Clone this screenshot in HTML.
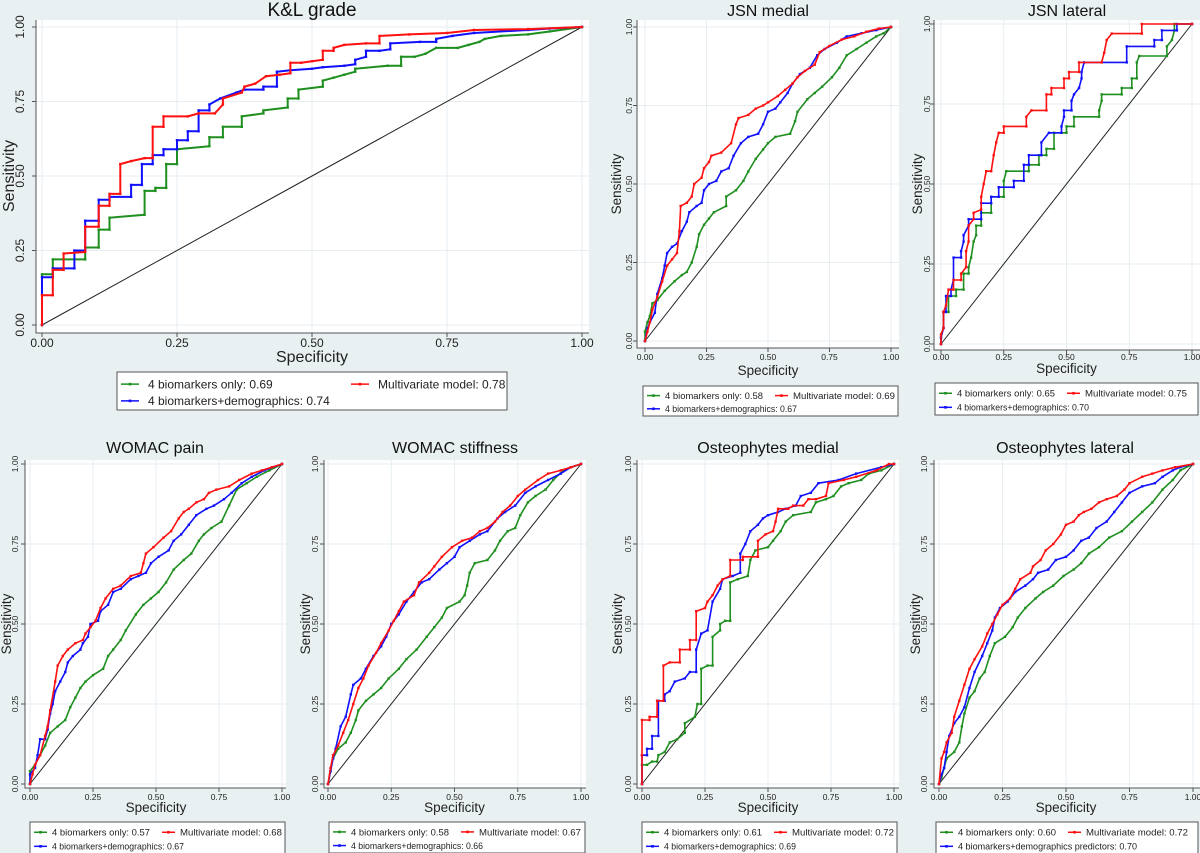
<!DOCTYPE html>
<html><head><meta charset="utf-8">
<style>
html,body{margin:0;padding:0;background:#e9f0f2;}
svg{display:block;font-family:"Liberation Sans",Arial,sans-serif;}
</style></head>
<body>
<svg id="fig" width="1200" height="853" viewBox="0 0 1200 853" xmlns="http://www.w3.org/2000/svg">
<rect x="0" y="0" width="1200" height="853" fill="#e9f0f2"/>
</svg>
<script>
const ticks = [0, 0.25, 0.5, 0.75, 1];
const tickLabels = ["0.00", "0.25", "0.50", "0.75", "1.00"];

const kl_green = [[0,0],[0,0.17],[0.02,0.17],[0.02,0.22],[0.08,0.22],[0.08,0.26],[0.105,0.26],[0.105,0.32],[0.125,0.32],[0.125,0.36],[0.19,0.37],[0.19,0.45],[0.21,0.45],[0.21,0.46],[0.23,0.46],[0.23,0.54],[0.25,0.54],[0.25,0.59],[0.31,0.6],[0.31,0.63],[0.335,0.63],[0.335,0.665],[0.37,0.665],[0.37,0.70],[0.41,0.71],[0.41,0.72],[0.455,0.73],[0.455,0.76],[0.475,0.76],[0.475,0.79],[0.52,0.80],[0.52,0.82],[0.54,0.83],[0.56,0.84],[0.58,0.85],[0.58,0.86],[0.64,0.87],[0.665,0.87],[0.665,0.90],[0.69,0.90],[0.71,0.91],[0.73,0.93],[0.77,0.93],[0.79,0.94],[0.81,0.95],[0.82,0.96],[0.85,0.97],[0.9,0.975],[0.94,0.985],[1,1]];
const kl_red = [[0,0],[0,0.1],[0.02,0.1],[0.02,0.185],[0.04,0.185],[0.04,0.24],[0.08,0.245],[0.08,0.33],[0.105,0.33],[0.105,0.40],[0.125,0.40],[0.125,0.44],[0.145,0.44],[0.145,0.54],[0.165,0.55],[0.19,0.56],[0.205,0.56],[0.205,0.665],[0.225,0.665],[0.225,0.70],[0.27,0.70],[0.29,0.71],[0.32,0.71],[0.335,0.74],[0.335,0.76],[0.37,0.78],[0.375,0.80],[0.395,0.81],[0.415,0.835],[0.44,0.84],[0.46,0.845],[0.46,0.88],[0.48,0.88],[0.5,0.885],[0.52,0.89],[0.52,0.92],[0.54,0.92],[0.54,0.93],[0.56,0.94],[0.6,0.945],[0.625,0.945],[0.625,0.97],[0.68,0.975],[0.75,0.98],[0.8,0.99],[0.9,0.993],[1,1]];
const kl_blue = [[0,0],[0,0.16],[0.02,0.16],[0.02,0.19],[0.06,0.19],[0.06,0.25],[0.08,0.25],[0.08,0.35],[0.105,0.35],[0.105,0.42],[0.125,0.42],[0.125,0.43],[0.165,0.43],[0.165,0.47],[0.185,0.47],[0.185,0.54],[0.205,0.54],[0.205,0.57],[0.225,0.57],[0.225,0.59],[0.25,0.59],[0.25,0.62],[0.27,0.62],[0.27,0.65],[0.29,0.65],[0.29,0.72],[0.31,0.72],[0.31,0.74],[0.33,0.76],[0.36,0.78],[0.375,0.79],[0.41,0.79],[0.41,0.80],[0.435,0.80],[0.435,0.85],[0.46,0.855],[0.5,0.86],[0.52,0.865],[0.56,0.87],[0.58,0.875],[0.58,0.89],[0.6,0.90],[0.6,0.92],[0.625,0.92],[0.645,0.925],[0.645,0.945],[0.7,0.95],[0.73,0.95],[0.73,0.96],[0.76,0.97],[0.8,0.98],[0.9,0.99],[0.94,0.995],[1,1]];

const jm_red = [[0,0],[0.01,0.03],[0.02,0.06],[0.03,0.1],[0.05,0.14],[0.07,0.19],[0.09,0.24],[0.11,0.26],[0.13,0.28],[0.14,0.35],[0.145,0.43],[0.17,0.44],[0.19,0.46],[0.2,0.5],[0.23,0.52],[0.24,0.55],[0.26,0.57],[0.27,0.59],[0.31,0.6],[0.35,0.63],[0.37,0.69],[0.38,0.71],[0.42,0.72],[0.45,0.74],[0.48,0.75],[0.5,0.76],[0.54,0.78],[0.57,0.80],[0.6,0.82],[0.62,0.84],[0.65,0.86],[0.69,0.88],[0.71,0.92],[0.75,0.94],[0.8,0.96],[0.85,0.97],[0.9,0.985],[0.95,0.995],[1,1]];
const jm_blue = [[0,0],[0.01,0.04],[0.02,0.06],[0.04,0.09],[0.05,0.15],[0.07,0.2],[0.08,0.24],[0.09,0.28],[0.11,0.3],[0.13,0.31],[0.15,0.35],[0.17,0.38],[0.18,0.41],[0.21,0.43],[0.23,0.44],[0.24,0.48],[0.26,0.5],[0.29,0.51],[0.31,0.54],[0.34,0.55],[0.36,0.59],[0.39,0.63],[0.42,0.65],[0.46,0.66],[0.48,0.69],[0.5,0.73],[0.53,0.74],[0.55,0.76],[0.58,0.79],[0.6,0.82],[0.63,0.85],[0.67,0.87],[0.7,0.91],[0.73,0.93],[0.78,0.95],[0.82,0.97],[0.88,0.98],[0.94,0.99],[1,1]];
const jm_green = [[0,0],[0,0.03],[0.01,0.06],[0.02,0.08],[0.03,0.12],[0.05,0.13],[0.08,0.16],[0.12,0.19],[0.15,0.21],[0.17,0.22],[0.19,0.25],[0.21,0.3],[0.22,0.34],[0.24,0.37],[0.26,0.39],[0.28,0.41],[0.33,0.43],[0.33,0.46],[0.37,0.48],[0.4,0.51],[0.42,0.54],[0.45,0.58],[0.48,0.61],[0.5,0.63],[0.53,0.65],[0.59,0.66],[0.61,0.7],[0.62,0.73],[0.66,0.77],[0.69,0.79],[0.72,0.81],[0.76,0.84],[0.79,0.87],[0.82,0.91],[0.86,0.93],[0.9,0.95],[0.94,0.97],[0.97,0.98],[1,1]];

const jl_red = [[0,0],[0,0.03],[0.01,0.05],[0.01,0.10],[0.02,0.12],[0.03,0.17],[0.05,0.17],[0.05,0.20],[0.08,0.20],[0.08,0.22],[0.1,0.24],[0.1,0.29],[0.11,0.32],[0.11,0.37],[0.13,0.39],[0.13,0.41],[0.16,0.42],[0.16,0.46],[0.17,0.5],[0.18,0.54],[0.2,0.54],[0.21,0.59],[0.22,0.63],[0.23,0.66],[0.25,0.66],[0.25,0.68],[0.34,0.68],[0.34,0.71],[0.36,0.73],[0.42,0.73],[0.42,0.78],[0.44,0.78],[0.44,0.8],[0.49,0.8],[0.49,0.83],[0.51,0.83],[0.51,0.85],[0.55,0.85],[0.55,0.88],[0.64,0.88],[0.65,0.91],[0.66,0.95],[0.68,0.97],[0.8,0.97],[0.8,1],[1,1]];
const jl_blue = [[0,0],[0,0.02],[0.01,0.05],[0.01,0.1],[0.02,0.1],[0.02,0.15],[0.04,0.15],[0.04,0.17],[0.05,0.2],[0.05,0.27],[0.08,0.27],[0.08,0.29],[0.09,0.32],[0.09,0.34],[0.11,0.37],[0.11,0.39],[0.16,0.39],[0.16,0.44],[0.2,0.44],[0.2,0.46],[0.23,0.46],[0.23,0.49],[0.29,0.49],[0.29,0.51],[0.33,0.51],[0.33,0.56],[0.35,0.56],[0.35,0.59],[0.4,0.59],[0.4,0.63],[0.43,0.66],[0.48,0.66],[0.48,0.68],[0.49,0.71],[0.49,0.73],[0.52,0.73],[0.52,0.76],[0.53,0.78],[0.55,0.8],[0.56,0.83],[0.56,0.85],[0.57,0.88],[0.74,0.88],[0.74,0.93],[0.85,0.93],[0.85,0.95],[0.88,0.95],[0.88,0.98],[0.94,0.98],[0.94,1],[1,1]];
const jl_green = [[0,0],[0,0.02],[0.01,0.05],[0.01,0.1],[0.03,0.1],[0.03,0.15],[0.06,0.15],[0.06,0.17],[0.09,0.17],[0.09,0.22],[0.11,0.22],[0.11,0.24],[0.12,0.27],[0.13,0.32],[0.14,0.34],[0.14,0.37],[0.16,0.37],[0.16,0.41],[0.2,0.41],[0.2,0.46],[0.25,0.46],[0.25,0.51],[0.26,0.54],[0.35,0.54],[0.35,0.56],[0.39,0.56],[0.39,0.59],[0.42,0.59],[0.42,0.61],[0.45,0.61],[0.45,0.66],[0.5,0.66],[0.5,0.68],[0.53,0.68],[0.53,0.71],[0.63,0.71],[0.63,0.73],[0.64,0.76],[0.64,0.78],[0.72,0.78],[0.72,0.8],[0.76,0.8],[0.76,0.83],[0.78,0.83],[0.78,0.88],[0.79,0.9],[0.9,0.9],[0.9,0.93],[0.92,0.95],[0.93,0.98],[0.93,1],[1,1]];

const wp_red = [[0,0],[0.01,0.03],[0.02,0.06],[0.04,0.09],[0.06,0.15],[0.07,0.18],[0.08,0.23],[0.1,0.32],[0.11,0.37],[0.13,0.4],[0.15,0.42],[0.18,0.44],[0.21,0.45],[0.22,0.47],[0.24,0.49],[0.26,0.51],[0.28,0.55],[0.3,0.58],[0.33,0.61],[0.36,0.62],[0.4,0.65],[0.44,0.66],[0.45,0.69],[0.46,0.72],[0.49,0.74],[0.53,0.77],[0.56,0.79],[0.59,0.83],[0.61,0.85],[0.63,0.86],[0.66,0.88],[0.69,0.89],[0.71,0.91],[0.74,0.92],[0.79,0.93],[0.83,0.95],[0.88,0.97],[0.92,0.98],[0.96,0.99],[1,1]];
const wp_blue = [[0,0],[0,0.03],[0.02,0.05],[0.03,0.09],[0.04,0.14],[0.06,0.14],[0.07,0.17],[0.08,0.22],[0.09,0.25],[0.1,0.29],[0.12,0.32],[0.14,0.35],[0.15,0.38],[0.17,0.4],[0.2,0.42],[0.21,0.44],[0.23,0.46],[0.24,0.5],[0.27,0.51],[0.28,0.54],[0.31,0.56],[0.33,0.6],[0.36,0.61],[0.4,0.64],[0.43,0.65],[0.46,0.66],[0.48,0.69],[0.51,0.71],[0.55,0.73],[0.57,0.76],[0.6,0.78],[0.63,0.81],[0.66,0.84],[0.7,0.86],[0.73,0.87],[0.77,0.89],[0.8,0.91],[0.84,0.94],[0.88,0.96],[0.93,0.98],[1,1]];
const wp_green = [[0,0],[0,0.04],[0.02,0.06],[0.04,0.09],[0.06,0.12],[0.08,0.16],[0.11,0.18],[0.14,0.2],[0.16,0.24],[0.18,0.27],[0.2,0.3],[0.22,0.32],[0.25,0.34],[0.29,0.36],[0.31,0.4],[0.33,0.42],[0.36,0.45],[0.38,0.48],[0.42,0.53],[0.45,0.56],[0.48,0.58],[0.51,0.6],[0.54,0.63],[0.57,0.67],[0.61,0.7],[0.64,0.72],[0.67,0.76],[0.69,0.78],[0.72,0.8],[0.76,0.82],[0.79,0.87],[0.82,0.92],[0.86,0.94],[0.9,0.96],[0.95,0.98],[1,1]];

const ws_red = [[0,0],[0.01,0.05],[0.02,0.09],[0.04,0.12],[0.06,0.16],[0.08,0.2],[0.1,0.25],[0.12,0.3],[0.14,0.33],[0.16,0.37],[0.19,0.41],[0.21,0.44],[0.24,0.48],[0.26,0.51],[0.28,0.54],[0.3,0.57],[0.34,0.59],[0.36,0.63],[0.4,0.66],[0.42,0.68],[0.45,0.71],[0.49,0.74],[0.53,0.76],[0.57,0.77],[0.6,0.79],[0.63,0.8],[0.66,0.82],[0.69,0.85],[0.72,0.87],[0.75,0.9],[0.78,0.92],[0.83,0.95],[0.87,0.97],[0.92,0.98],[0.96,0.99],[1,1]];
const ws_blue = [[0,0],[0.01,0.04],[0.02,0.08],[0.03,0.11],[0.05,0.18],[0.07,0.21],[0.09,0.28],[0.1,0.31],[0.13,0.33],[0.15,0.36],[0.18,0.4],[0.21,0.43],[0.23,0.46],[0.25,0.5],[0.28,0.53],[0.31,0.57],[0.34,0.6],[0.37,0.63],[0.4,0.64],[0.44,0.67],[0.47,0.69],[0.5,0.71],[0.52,0.74],[0.56,0.76],[0.6,0.78],[0.63,0.79],[0.67,0.83],[0.7,0.85],[0.74,0.87],[0.78,0.91],[0.82,0.93],[0.87,0.95],[0.92,0.97],[0.96,0.99],[1,1]];
const ws_green = [[0,0],[0.01,0.04],[0.02,0.08],[0.04,0.11],[0.07,0.13],[0.09,0.16],[0.11,0.2],[0.12,0.23],[0.15,0.26],[0.18,0.28],[0.21,0.3],[0.24,0.33],[0.28,0.36],[0.31,0.39],[0.35,0.42],[0.39,0.46],[0.42,0.49],[0.45,0.52],[0.47,0.55],[0.52,0.57],[0.54,0.59],[0.55,0.62],[0.56,0.66],[0.58,0.69],[0.63,0.7],[0.66,0.73],[0.68,0.76],[0.71,0.79],[0.74,0.8],[0.76,0.84],[0.79,0.88],[0.82,0.9],[0.86,0.92],[0.89,0.95],[0.93,0.98],[1,1]];

const om_red = [[0,0],[0,0.09],[0,0.2],[0.03,0.2],[0.03,0.21],[0.06,0.21],[0.06,0.26],[0.085,0.26],[0.085,0.37],[0.11,0.38],[0.15,0.38],[0.15,0.42],[0.19,0.42],[0.19,0.45],[0.215,0.45],[0.215,0.54],[0.25,0.55],[0.26,0.57],[0.28,0.59],[0.3,0.62],[0.32,0.64],[0.35,0.65],[0.35,0.7],[0.4,0.7],[0.4,0.71],[0.46,0.71],[0.46,0.76],[0.49,0.78],[0.52,0.79],[0.53,0.82],[0.54,0.86],[0.58,0.86],[0.6,0.87],[0.64,0.87],[0.66,0.89],[0.69,0.89],[0.73,0.9],[0.74,0.94],[0.8,0.95],[0.85,0.96],[0.93,0.98],[0.98,1],[1,1]];
const om_blue = [[0,0],[0,0.09],[0.02,0.09],[0.02,0.11],[0.04,0.11],[0.04,0.15],[0.065,0.15],[0.065,0.26],[0.09,0.26],[0.09,0.28],[0.11,0.29],[0.13,0.32],[0.17,0.33],[0.19,0.35],[0.215,0.35],[0.215,0.42],[0.235,0.47],[0.26,0.48],[0.28,0.57],[0.31,0.61],[0.32,0.64],[0.36,0.65],[0.39,0.66],[0.39,0.72],[0.41,0.75],[0.43,0.79],[0.46,0.81],[0.48,0.83],[0.5,0.84],[0.54,0.85],[0.57,0.86],[0.61,0.87],[0.63,0.9],[0.67,0.91],[0.7,0.94],[0.78,0.95],[0.85,0.97],[0.95,0.99],[1,1]];
const om_green = [[0,0],[0,0.06],[0.02,0.06],[0.04,0.07],[0.06,0.07],[0.065,0.09],[0.09,0.1],[0.11,0.13],[0.14,0.14],[0.17,0.16],[0.17,0.19],[0.21,0.21],[0.22,0.25],[0.235,0.25],[0.235,0.36],[0.26,0.37],[0.28,0.37],[0.28,0.46],[0.31,0.48],[0.31,0.5],[0.33,0.51],[0.35,0.51],[0.35,0.63],[0.38,0.64],[0.42,0.65],[0.43,0.7],[0.45,0.73],[0.5,0.74],[0.52,0.76],[0.55,0.79],[0.57,0.82],[0.6,0.84],[0.67,0.85],[0.69,0.88],[0.73,0.89],[0.76,0.9],[0.79,0.93],[0.82,0.94],[0.87,0.95],[0.9,0.97],[0.95,0.98],[1,1]];

const ol_red = [[0,0],[0.01,0.08],[0.02,0.1],[0.03,0.13],[0.05,0.16],[0.06,0.21],[0.08,0.26],[0.1,0.31],[0.12,0.36],[0.14,0.39],[0.17,0.43],[0.19,0.47],[0.21,0.5],[0.23,0.53],[0.25,0.56],[0.28,0.58],[0.3,0.61],[0.32,0.64],[0.36,0.66],[0.37,0.68],[0.4,0.7],[0.42,0.73],[0.45,0.75],[0.48,0.78],[0.5,0.81],[0.53,0.82],[0.55,0.84],[0.57,0.85],[0.6,0.86],[0.63,0.88],[0.66,0.89],[0.7,0.9],[0.73,0.92],[0.75,0.94],[0.8,0.96],[0.84,0.97],[0.88,0.98],[0.93,0.99],[1,1]];
const ol_blue = [[0,0],[0.01,0.03],[0.02,0.05],[0.03,0.1],[0.04,0.15],[0.06,0.19],[0.08,0.21],[0.1,0.24],[0.12,0.3],[0.14,0.35],[0.17,0.4],[0.19,0.44],[0.21,0.48],[0.22,0.52],[0.24,0.55],[0.27,0.57],[0.3,0.6],[0.34,0.62],[0.37,0.64],[0.39,0.66],[0.43,0.67],[0.46,0.7],[0.5,0.71],[0.53,0.73],[0.56,0.76],[0.59,0.77],[0.62,0.8],[0.66,0.82],[0.69,0.85],[0.72,0.88],[0.75,0.91],[0.8,0.93],[0.85,0.94],[0.88,0.96],[0.92,0.98],[0.95,0.99],[1,1]];
const ol_green = [[0,0],[0.01,0.02],[0.02,0.05],[0.03,0.08],[0.06,0.1],[0.08,0.13],[0.09,0.18],[0.1,0.22],[0.12,0.27],[0.14,0.29],[0.16,0.33],[0.18,0.35],[0.2,0.4],[0.22,0.44],[0.26,0.46],[0.29,0.49],[0.31,0.52],[0.34,0.55],[0.38,0.58],[0.41,0.6],[0.45,0.62],[0.49,0.65],[0.53,0.67],[0.56,0.69],[0.59,0.72],[0.63,0.74],[0.67,0.77],[0.72,0.79],[0.76,0.82],[0.8,0.85],[0.84,0.88],[0.88,0.92],[0.92,0.95],[0.95,0.98],[1,1]];

const GREEN = "#1f8f1f", RED = "#ff1010", BLUE = "#1010ff";
const svg = document.getElementById('fig');
const NS = "http://www.w3.org/2000/svg";
function mk(tag, attrs, parent) {
  const e = document.createElementNS(NS, tag);
  for (const k in attrs) e.setAttribute(k, attrs[k]);
  (parent || svg).appendChild(e);
  return e;
}

const panels = [
  {id:'kl', title:'K&L grade', big:true, x0:42,x1:582,y1:27,y0:325, wl:36,wr:589,wt:20,wb:333, tx:312,ty:16, xtY:347, specY:362, sensX:14, ytX:24, leg:[117,372,390,38],
   series:[[kl_green,GREEN],[kl_blue,BLUE],[kl_red,RED]], labels:['4 biomarkers only: 0.69','4 biomarkers+demographics: 0.74','Multivariate model: 0.78']},
  {id:'jsn-medial', title:'JSN medial', x0:645,x1:891,y1:27,y0:341, wl:637,wr:899,wt:20,wb:348, tx:768,ty:16, xtY:360, specY:375, sensX:621, ytX:632, leg:[643,386,255,30],
   series:[[jm_green,GREEN],[jm_blue,BLUE],[jm_red,RED]], labels:['4 biomarkers only: 0.58','4 biomarkers+demographics: 0.67','Multivariate model: 0.69']},
  {id:'jsn-lateral', title:'JSN lateral', x0:941,x1:1192,y1:24,y0:344, wl:934,wr:1200,wt:20,wb:350, tx:1067,ty:16, xtY:360, specY:373, sensX:922, ytX:930, leg:[935,383,263,32],
   series:[[jl_green,GREEN],[jl_blue,BLUE],[jl_red,RED]], labels:['4 biomarkers only: 0.65','4 biomarkers+demographics: 0.70','Multivariate model: 0.75']},
  {id:'womac-pain', title:'WOMAC pain', x0:30,x1:282,y1:464,y0:784, wl:25,wr:286,wt:460,wb:788, tx:155,ty:453, xtY:800, specY:812, sensX:11, ytX:18, leg:[30,822,255,32],
   series:[[wp_green,GREEN],[wp_blue,BLUE],[wp_red,RED]], labels:['4 biomarkers only: 0.57','4 biomarkers+demographics: 0.67','Multivariate model: 0.68']},
  {id:'womac-stiffness', title:'WOMAC stiffness', x0:328,x1:581,y1:464,y0:784, wl:324,wr:586,wt:460,wb:788, tx:455,ty:453, xtY:800, specY:812, sensX:310, ytX:318, leg:[329,822,256,31],
   series:[[ws_green,GREEN],[ws_blue,BLUE],[ws_red,RED]], labels:['4 biomarkers only: 0.58','4 biomarkers+demographics: 0.66','Multivariate model: 0.67']},
  {id:'osteophytes-medial', title:'Osteophytes medial', x0:642,x1:894,y1:464,y0:784, wl:637,wr:899,wt:460,wb:788, tx:768,ty:453, xtY:800, specY:812, sensX:622, ytX:631, leg:[642,822,255,32],
   series:[[om_green,GREEN],[om_blue,BLUE],[om_red,RED]], labels:['4 biomarkers only: 0.61','4 biomarkers+demographics: 0.69','Multivariate model: 0.72']},
  {id:'osteophytes-lateral', title:'Osteophytes lateral', x0:939,x1:1193,y1:464,y0:784, wl:934,wr:1200,wt:460,wb:788, tx:1065,ty:453, xtY:800, specY:812, sensX:920, ytX:927, leg:[936,822,262,32],
   series:[[ol_green,GREEN],[ol_blue,BLUE],[ol_red,RED]], labels:['4 biomarkers only: 0.60','4 biomarkers+demographics predictors: 0.70','Multivariate model: 0.72']}
];

panels.forEach(p => {
  const g = mk('g', {});
  
  
  const sx = v => p.x0 + v * (p.x1 - p.x0);
  const sy = v => p.y0 - v * (p.y0 - p.y1);
  const big = !!p.big;
  const tickFs = big ? 12 : 8.5, axFs = big ? 16 : 13.5, titleFs = big ? 19 : 16, legFs = big ? 12 : 9.3;

  const bg = mk('rect', {x:p.wl, y:p.wt, width:p.wr-p.wl, height:p.wb-p.wt, fill:'#ffffff'}, g);
  
  
  ticks.forEach(t => {
    mk('line', {x1:sx(t), x2:sx(t), y1:p.wt, y2:p.wb, stroke:'#e6eef0', 'stroke-width':1}, g);
    mk('line', {x1:p.wl, x2:p.wr, y1:sy(t), y2:sy(t), stroke:'#e6eef0', 'stroke-width':1}, g);
  });
  const ax = mk('path', {d:`M${p.wl},${p.wt}V${p.wb}H${p.wr}`, stroke:'#555', fill:'none', 'stroke-width':1}, g);
  
  
  ticks.forEach((t, i) => {
    mk('line', {x1:sx(t), x2:sx(t), y1:p.wb, y2:p.wb+4, stroke:'#555'}, g);
    mk('line', {x1:p.wl-4, x2:p.wl, y1:sy(t), y2:sy(t), stroke:'#555'}, g);
    const xl = mk('text', {x:sx(t), y:p.xtY, 'font-size':tickFs, 'text-anchor':'middle', fill:'#222'}, g);
    xl.textContent = tickLabels[i];
    
    
    const yl = mk('text', {x:0, y:0, 'font-size':tickFs, 'text-anchor':'middle', fill:'#222', transform:`translate(${p.ytX},${sy(t)}) rotate(-90)`}, g);
    yl.textContent = tickLabels[i];
    
    
  });
  const xt = mk('text', {x:(p.x0+p.x1)/2, y:p.specY, 'font-size':axFs, 'text-anchor':'middle', fill:'#222'}, g);
  xt.textContent = 'Specificity';
  
  
  const yt = mk('text', {x:0, y:0, 'font-size':axFs, 'text-anchor':'middle', fill:'#222', transform:`translate(${p.sensX},${(p.y0+p.y1)/2}) rotate(-90)`}, g);
  yt.textContent = 'Sensitivity';
  
  
  const tt = mk('text', {x:p.tx, y:p.ty, 'font-size':titleFs, 'text-anchor':'middle', fill:'#111'}, g);
  tt.textContent = p.title;
  
  
  const dg = mk('line', {x1:sx(0), y1:sy(0), x2:sx(1), y2:sy(1), stroke:'#222', 'stroke-width':1}, g);
  
  
  p.series.forEach(([pts, col], si) => {
    const d = pts.map((q, i) => (i ? 'L' : 'M') + sx(q[0]).toFixed(1) + ',' + sy(q[1]).toFixed(1)).join('');
    const ln = mk('path', {d, stroke:col, fill:'none', 'stroke-width': big ? 2 : 1.6, 'stroke-linejoin':'round'}, g);
    
    
    pts.forEach(q => {
      const m = mk('rect', {x:sx(q[0])-1.2, y:sy(q[1])-1.2, width:2.4, height:2.4, fill:col}, g);
      
      
    });
  });
  const [lx, ly, lw, lh] = p.leg;
  const lg = mk('g', {}, g);
  
  
  mk('rect', {x:lx, y:ly, width:lw, height:lh, fill:'#fff', stroke:'#555', 'stroke-width':1}, lg);
  const r1 = ly + lh*0.32, r2 = ly + lh*0.76;
  const c2 = big ? lx + 234 : lx + 132;
  const entries = [[lx+4, r1, GREEN, p.labels[0]], [lx+4, r2, BLUE, p.labels[1]], [c2, r1, RED, p.labels[2]]];
  const lineW = big ? 18 : 13;
  entries.forEach(([ex, ey, col, txt]) => {
    const eg = mk('g', {}, lg);
    
    
    mk('line', {x1:ex, x2:ex+lineW, y1:ey, y2:ey, stroke:col, 'stroke-width':1.5}, eg);
    mk('rect', {x:ex+lineW/2-1.3, y:ey-1.3, width:2.6, height:2.6, fill:col}, eg);
    const t = mk('text', {x:ex+lineW+(big?9:5), y:ey+legFs*0.36, 'font-size':legFs, fill:'#222'}, eg);
    t.textContent = txt;
    if (!big) {
      t.setAttribute('textLength', (txt.length * 4.25).toFixed(0));
      t.setAttribute('lengthAdjust', 'spacingAndGlyphs');
    }
  });
});
</script>
</body></html>
